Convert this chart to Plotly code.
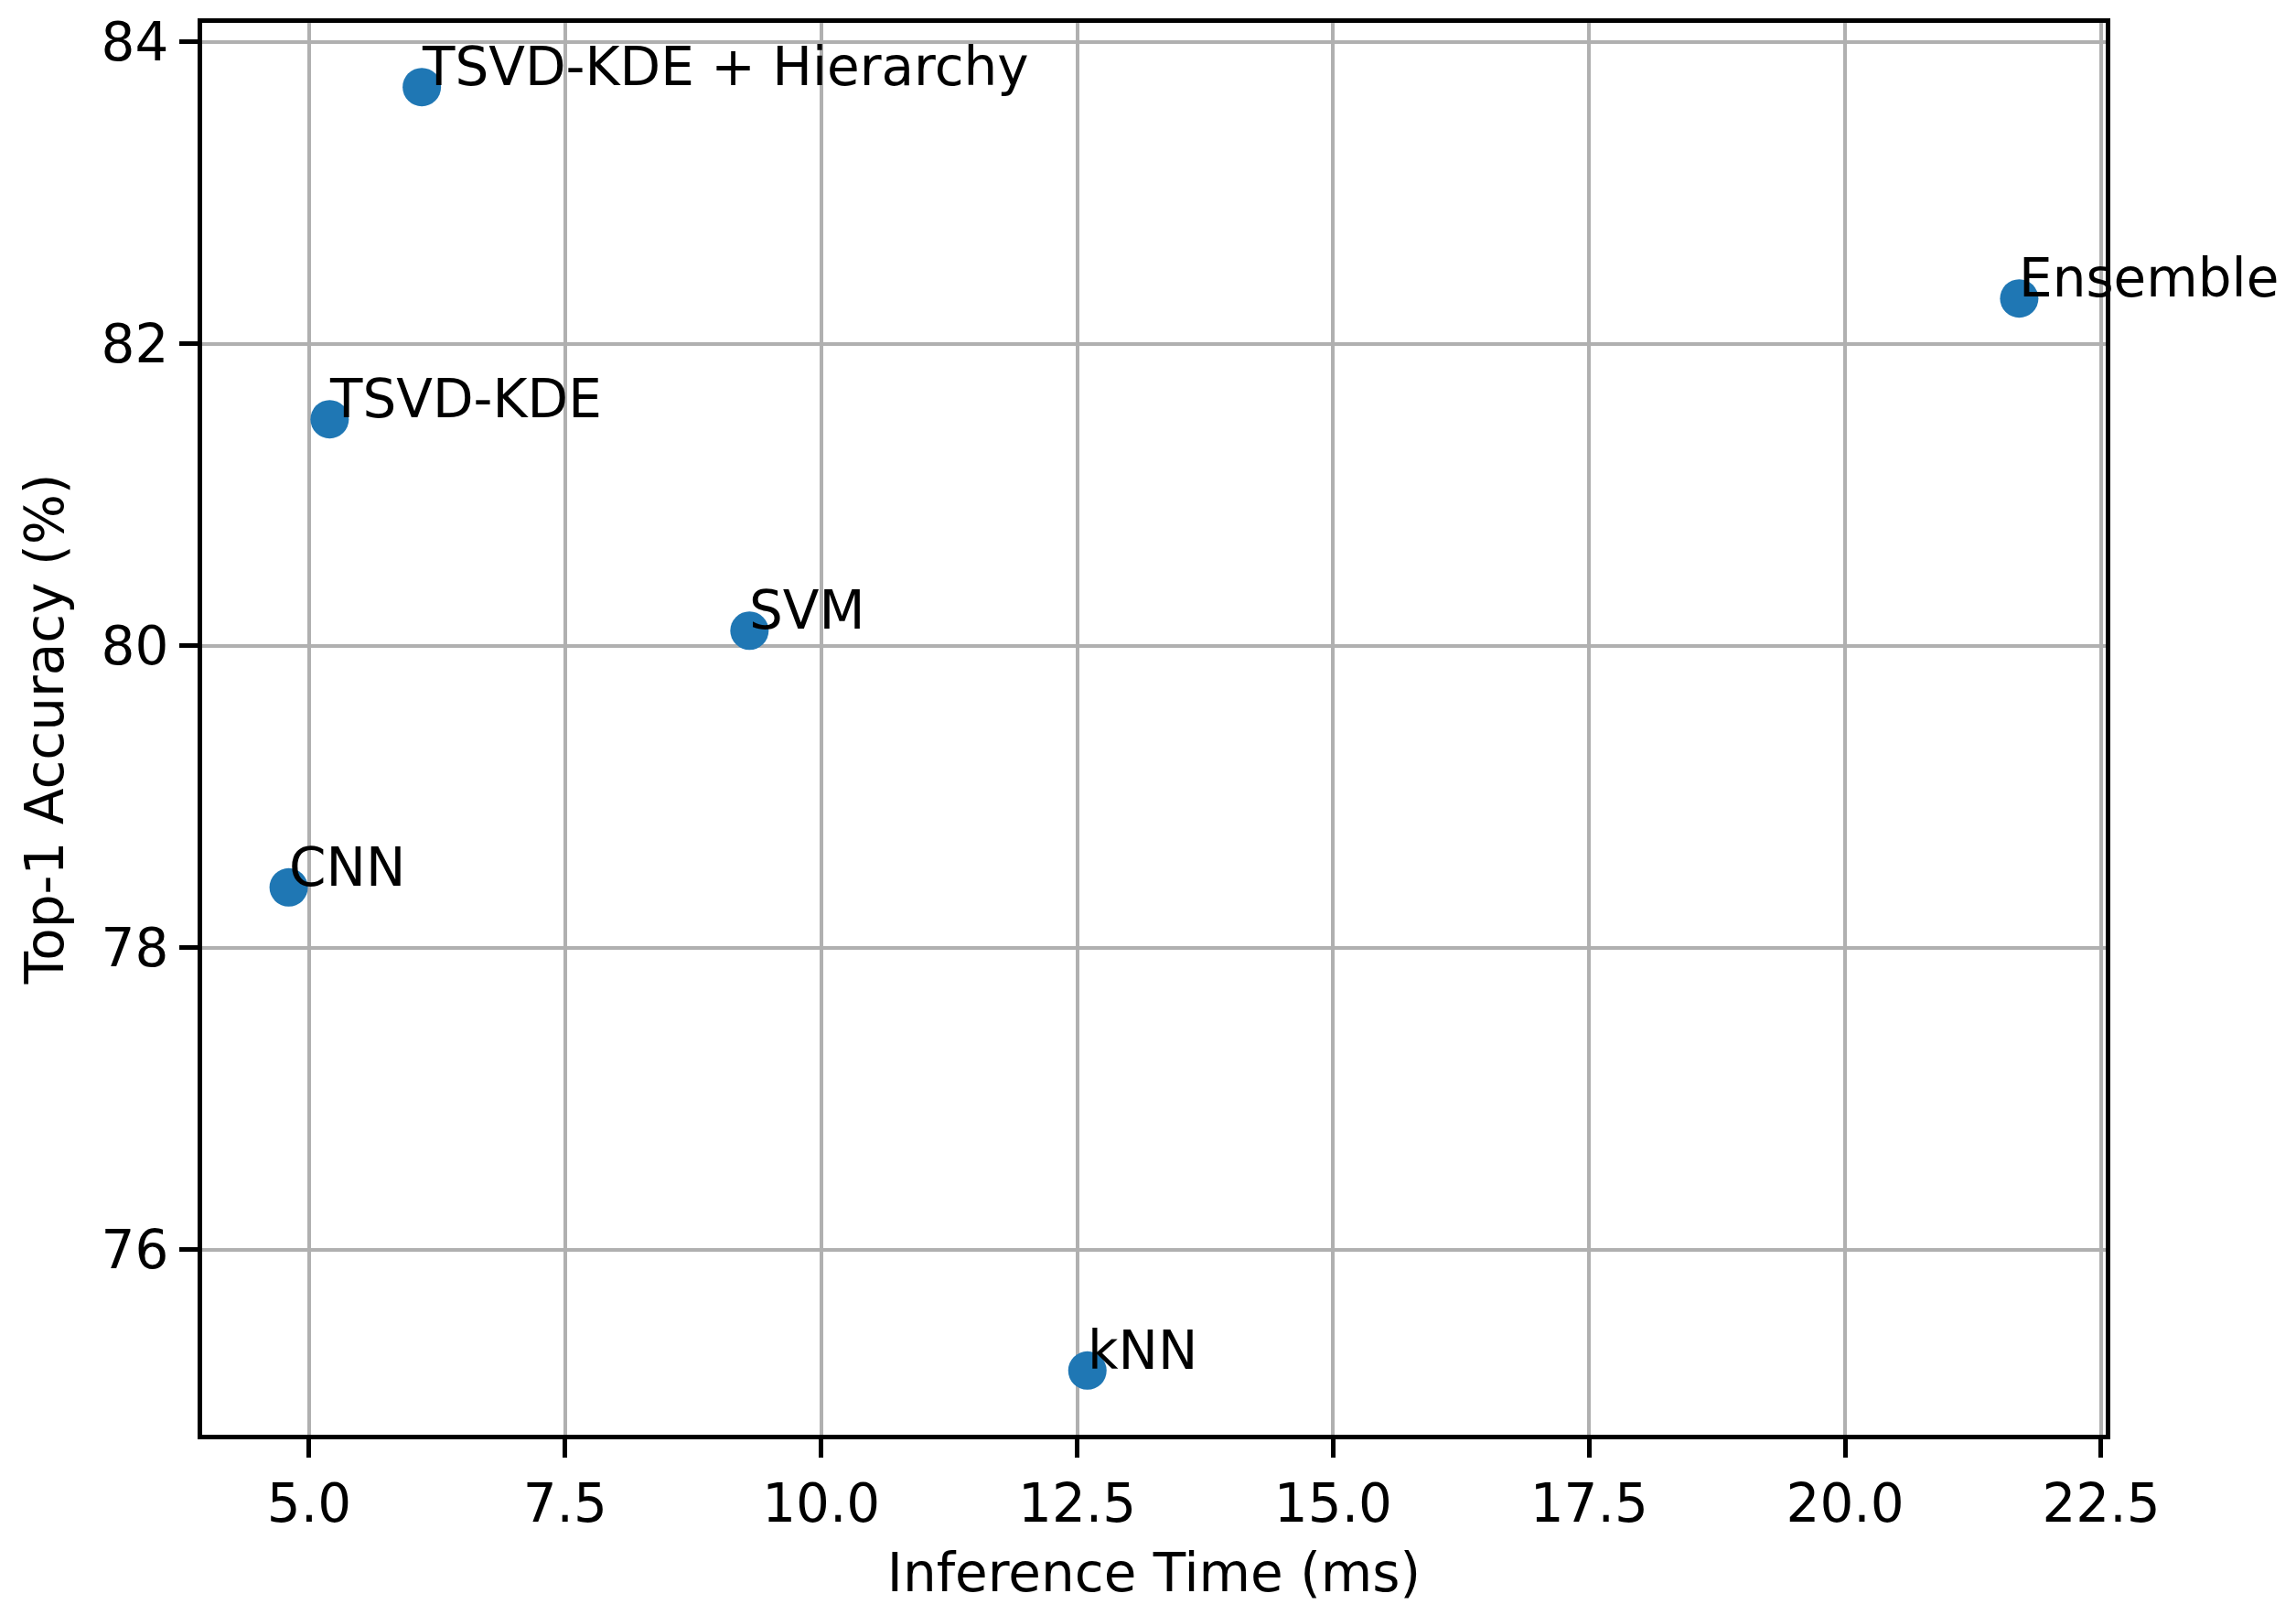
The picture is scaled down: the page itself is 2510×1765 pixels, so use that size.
import plotly.graph_objects as go

methods = ["TSVD-KDE + Hierarchy", "TSVD-KDE", "SVM", "CNN", "kNN", "Ensemble"]
inference_ms = [6.1, 5.2, 9.3, 4.8, 12.6, 21.7]
accuracy = [83.7, 81.5, 80.1, 78.4, 75.2, 82.3]

x_ticks = [5.0, 7.5, 10.0, 12.5, 15.0, 17.5, 20.0, 22.5]
y_ticks = [76, 78, 80, 82, 84]

FONT = "DejaVu Sans"
FS = 58

fig = go.Figure()
fig.add_trace(go.Scatter(
    x=inference_ms, y=accuracy, mode="markers",
    marker=dict(size=42, color="#1f77b4", line=dict(width=0)),
    showlegend=False, hoverinfo="skip"))

for m, xv, yv in zip(methods, inference_ms, accuracy):
    fig.add_annotation(x=xv, y=yv, text=m, showarrow=False,
                       xanchor="left", yanchor="bottom", yshift=-14, xshift=-2,
                       font=dict(family=FONT, size=FS, color="black"))

xspan = max(inference_ms) - min(inference_ms)
yspan = max(accuracy) - min(accuracy)
xr = [min(inference_ms) - 0.05 * xspan, max(inference_ms) + 0.05 * xspan]
yr = [min(accuracy) - 0.05 * yspan, max(accuracy) + 0.05 * yspan]

axis_common = dict(showline=True, linecolor="black", linewidth=5, mirror=True,
                   showgrid=True, gridcolor="#b0b0b0", gridwidth=4,
                   ticks="outside", ticklen=20, tickwidth=5, tickcolor="black",
                   zeroline=False,
                   tickfont=dict(family=FONT, size=FS, color="black"))

fig.update_xaxes(range=xr, tickvals=x_ticks,
                 ticktext=[f"{v:.1f}" for v in x_ticks],
                 title=dict(text="Inference Time (ms)",
                            font=dict(family=FONT, size=FS, color="black"), standoff=24),
                 **axis_common)
fig.update_yaxes(range=yr, tickvals=y_ticks,
                 ticktext=[str(v) for v in y_ticks],
                 title=dict(text="Top-1 Accuracy (%)",
                            font=dict(family=FONT, size=FS, color="black"), standoff=24),
                 **axis_common)

fig.update_layout(width=2510, height=1765,
                  margin=dict(l=221, r=208, t=19, b=197),
                  plot_bgcolor="white", paper_bgcolor="white",
                  font=dict(family=FONT, size=FS, color="black"))

fig.write_html("out.html")
